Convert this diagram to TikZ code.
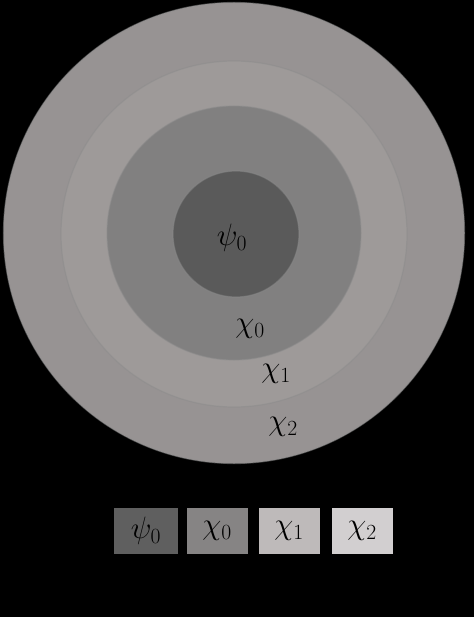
\RequirePackage{fix-cm}
\documentclass[tikz,border=0pt]{standalone}
\usepackage{amsmath}
\usepackage{tikz}
\usetikzlibrary{positioning}

\definecolor{outerring}{RGB}{151,147,147}
\definecolor{midring}{RGB}{158,154,153}
\definecolor{innerring}{RGB}{129,128,128}
\definecolor{core}{RGB}{90,90,90}
\definecolor{keyone}{RGB}{95,95,95}
\definecolor{keytwo}{RGB}{134,132,132}
\definecolor{keythree}{RGB}{190,186,186}
\definecolor{keyfour}{RGB}{210,207,208}

\tikzset{
    disc/.style={circle, inner sep=0pt, draw=black!45, draw opacity=0.5, line width=1.2bp},
    lbl/.style={font=\fontsize{31}{36}\selectfont, inner sep=0pt},
    keybox/.style={minimum width=61bp, minimum height=46bp, inner sep=0pt, font=\fontsize{31}{36}\selectfont}
}

\begin{document}
\begin{tikzpicture}[x=1bp,y=-1bp,on grid]

    % background
    \fill[black] (0,0) rectangle (474,617);

    % nested discs
    \node[disc, fill=outerring, minimum size=461bp] (chitwo) at (234,233) {};
    \node[disc, fill=midring, minimum size=346bp] (chione) at (234,234) {};
    \node[disc, fill=innerring, minimum size=254bp] (chizero) at (234,233) {};
    \node[disc, fill=core, minimum size=126bp] (psizero) at (236,234) {};

    % labels
    \node[lbl] (psilbl) at (232,238) {$\psi_0$};
    \node[lbl] (chizerolbl) at (250,329) {$\chi_0$};
    \node[lbl] (chionelbl) at (276,374) {$\chi_1$};
    \node[lbl] (chitwolbl) at (283,427) {$\chi_2$};

    % legend
    \node[keybox, fill=keyone, minimum width=64bp] (keypsi) at (146,531) {$\psi_0$};
    \node[keybox, fill=keytwo, right=71bp of keypsi] (keychizero) {$\chi_0$};
    \node[keybox, fill=keythree, right=72bp of keychizero] (keychione) {$\chi_1$};
    \node[keybox, fill=keyfour, right=73bp of keychione] (keychitwo) {$\chi_2$};

\end{tikzpicture}
\end{document}
